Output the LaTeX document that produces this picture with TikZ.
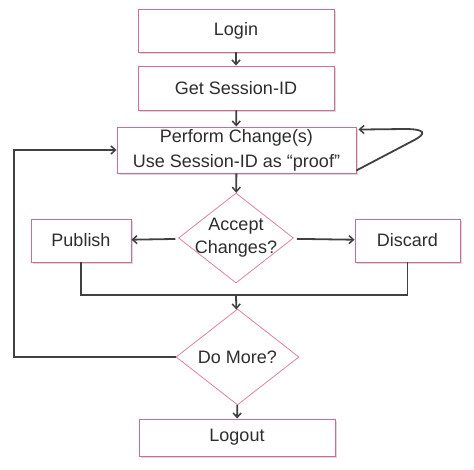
\documentclass[tikz,border=0pt]{standalone}
\usepackage{fontspec}
\setmainfont{Liberation Sans}
\usetikzlibrary{shapes.geometric,arrows.meta,shadows,calc}
\definecolor{pinkb}{RGB}{206,108,146}
\definecolor{pinkd}{RGB}{222,130,165}
\definecolor{lin}{RGB}{64,64,64}
\definecolor{txt}{RGB}{45,45,45}
\begin{document}
\begin{tikzpicture}[x=1pt,y=-1pt,
  every node/.style={text=txt, font=\fontsize{18}{24}\selectfont},
  box/.style={draw=pinkb, line width=0.9pt, fill=white, inner sep=0pt,
    drop shadow={shadow xshift=1.5pt, shadow yshift=-1.8pt, opacity=0.3, fill=gray}},
  dia/.style={diamond, draw=pinkd, line width=0.8pt, fill=white, inner sep=0pt},
  lnk/.style={draw=lin, line width=1.8pt},
  conn/.style={lnk, -{Straight Barb[length=4.5pt,width=8pt,line width=1.5pt]}},
]
\useasboundingbox (0,0) rectangle (474,470);

\node[box, minimum width=196pt, minimum height=43pt] (login) at (236,30.5) {Login};
\node[box, minimum width=196pt, minimum height=44pt] (get) at (236,88) {Get Session-ID};
\node[box, minimum width=239pt, minimum height=46pt, align=center,
      font=\fontsize{18}{25}\selectfont] (perf) at (236.5,150)
      {Perform Change(s)\\Use Session-ID as “proof”};
\node[dia, minimum width=115pt, minimum height=90pt,
      label={[align=center, font=\fontsize{18}{23}\selectfont]center:Accept\\Changes?}] (acc) at (236,238) {};
\node[box, minimum width=100pt, minimum height=43pt] (pub) at (81,240.5) {Publish};
\node[box, minimum width=105pt, minimum height=43pt] (dis) at (407.5,240.5) {Discard};
\node[dia, minimum width=123pt, minimum height=96pt,
      label={center:Do More?}] (more) at (237.5,357) {};
\node[box, minimum width=196pt, minimum height=37pt] (logout) at (237,437.5) {Logout};

\coordinate (merge) at (236,295);
\coordinate (lc) at (14,0);

\draw[conn] (login) -- (get);
\draw[conn] (get) -- (perf);
\draw[conn] (perf) -- (acc);
\draw[conn, shorten <=4pt] (acc) -- (pub);
\draw[conn, shorten <=4pt] (acc) -- (dis);
\draw[lnk] (pub.south) -- (pub.south |- merge) -- (dis.south |- merge) -- (dis.south);
\draw[conn] (merge) -- (more);
\draw[conn] (more) -- (logout);
\draw[conn] (more.west) -- (more.west -| lc) -- (lc |- perf.west) -- (perf.west);
\draw[conn] ($(perf.south east)+(0,-3)$) -- ($(perf.east)+(56,-9)$)
  .. controls ($(perf.east)+(72,-17)$) and ($(perf.east)+(68,-21)$) ..
  ($(perf.east)+(48,-21)$) -- ($(perf.north east)+(2,3)$);
\end{tikzpicture}
\end{document}
